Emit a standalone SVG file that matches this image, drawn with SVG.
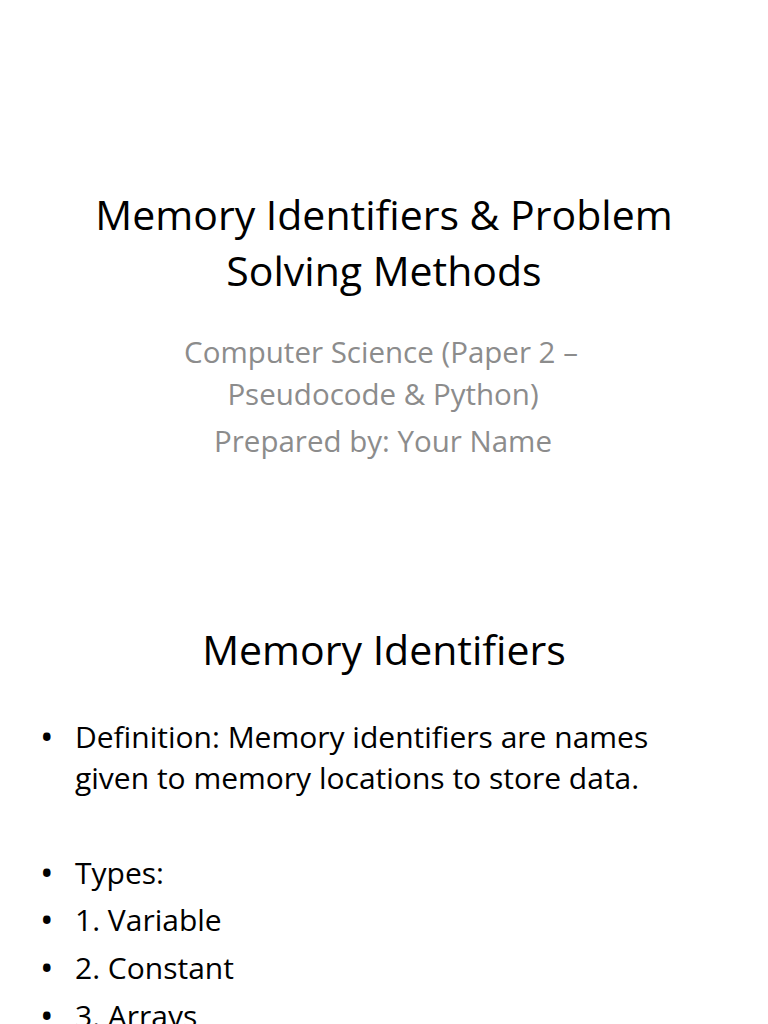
<svg xmlns="http://www.w3.org/2000/svg" width="768" height="1024" viewBox="0 0 768 1024">
<style>
text{font-family:"Open Sans","Noto Sans",sans-serif}
.t{font-size:41px;fill:#000;text-anchor:middle}
.s{font-size:29.5px;fill:#8c8c8c;text-anchor:middle}
.b{font-size:30px;fill:#000}
.d{font-size:36px}
</style>
<rect width="768" height="1024" fill="#fff"/>
<text class="t" x="384" y="230">Memory Identifiers &amp; Problem</text>
<text class="t" x="384" y="286">Solving Methods</text>
<text class="s" x="381" y="363">Computer Science (Paper 2 –</text>
<text class="s" x="383" y="405">Pseudocode &amp; Python)</text>
<text class="s" x="383" y="452">Prepared by: Your Name</text>
<text class="t" x="384" y="665">Memory Identifiers</text>
<g class="b">
<text class="d" x="40" y="750">•</text><text x="75" y="748">Definition: Memory identifiers are names</text>
<text x="75" y="789">given to memory locations to store data.</text>
<text class="d" x="40" y="886">•</text><text x="75" y="884">Types:</text>
<text class="d" x="40" y="933">•</text><text x="75" y="931">1. Variable</text>
<text class="d" x="40" y="981">•</text><text x="75" y="979">2. Constant</text>
<text class="d" x="40" y="1029">•</text><text x="75" y="1027">3. Arrays</text>
</g>
</svg>
